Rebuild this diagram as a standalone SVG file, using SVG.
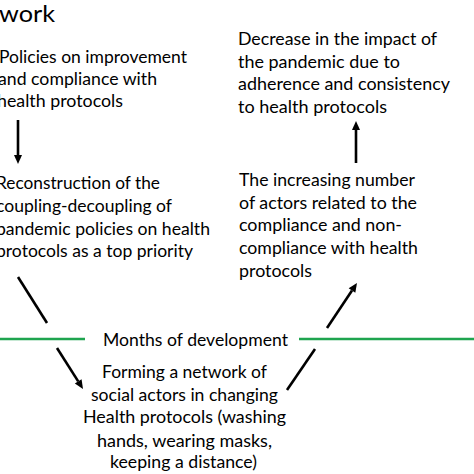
<svg xmlns="http://www.w3.org/2000/svg" width="474" height="474" viewBox="0 0 474 474">
<defs>
<style>
.t{font-family:Lato,"Open Sans","Liberation Sans",sans-serif;font-size:17.5px;fill:#000}
.ttl{font-family:Lato,"Open Sans","Liberation Sans",sans-serif;font-size:24px;fill:#000}
.c{stroke:#000;stroke-width:2.6;fill:none}
.g{stroke:#1fa44f;stroke-width:2.6;fill:none}
</style>
<marker id="ah" markerUnits="userSpaceOnUse" markerWidth="12" markerHeight="12" viewBox="0 -6 12 12" refX="0" refY="0" orient="auto" overflow="visible">
<path d="M0,-4 L9,0 L0,4 z" fill="#000"/>
</marker>
</defs>
<rect width="474" height="474" fill="#fff"/>
<text class="ttl" x="-1" y="22" textLength="56" lengthAdjust="spacingAndGlyphs">work</text>
<g id="n1">
<text class="t" x="-1" y="63" textLength="188" lengthAdjust="spacingAndGlyphs">Policies on improvement</text>
<text class="t" x="-2" y="85" textLength="159" lengthAdjust="spacingAndGlyphs">and compliance with</text>
<text class="t" x="-3" y="107" textLength="126" lengthAdjust="spacingAndGlyphs">health protocols</text>
</g>
<g id="n2">
<text class="t" x="-4" y="189" textLength="164" lengthAdjust="spacingAndGlyphs">Reconstruction of the</text>
<text class="t" x="-4" y="211.5" textLength="176" lengthAdjust="spacingAndGlyphs">coupling-decoupling of</text>
<text class="t" x="-4" y="234.5" textLength="214" lengthAdjust="spacingAndGlyphs">pandemic policies on health</text>
<text class="t" x="-4" y="257" textLength="197" lengthAdjust="spacingAndGlyphs">protocols as a top priority</text>
</g>
<g id="n3">
<text class="t" x="102" y="378.3" textLength="165" lengthAdjust="spacingAndGlyphs">Forming a network of</text>
<text class="t" x="91" y="401" textLength="187" lengthAdjust="spacingAndGlyphs">social actors in changing</text>
<text class="t" x="83" y="423.3" textLength="203" lengthAdjust="spacingAndGlyphs">Health protocols (washing</text>
<text class="t" x="97" y="446.7" textLength="175" lengthAdjust="spacingAndGlyphs">hands, wearing masks,</text>
<text class="t" x="110" y="468.3" textLength="147" lengthAdjust="spacingAndGlyphs">keeping a distance)</text>
</g>
<g id="n4">
<text class="t" x="239" y="186" textLength="176" lengthAdjust="spacingAndGlyphs">The increasing number</text>
<text class="t" x="239" y="208.5" textLength="178" lengthAdjust="spacingAndGlyphs">of actors related to the</text>
<text class="t" x="239" y="231" textLength="163" lengthAdjust="spacingAndGlyphs">compliance and non-</text>
<text class="t" x="239" y="254" textLength="179" lengthAdjust="spacingAndGlyphs">compliance with health</text>
<text class="t" x="239" y="277" textLength="73" lengthAdjust="spacingAndGlyphs">protocols</text>
</g>
<g id="n5">
<text class="t" x="238" y="45" textLength="199" lengthAdjust="spacingAndGlyphs">Decrease in the impact of</text>
<text class="t" x="238" y="67.5" textLength="162" lengthAdjust="spacingAndGlyphs">the pandemic due to</text>
<text class="t" x="238" y="90" textLength="212" lengthAdjust="spacingAndGlyphs">adherence and consistency</text>
<text class="t" x="238" y="112.5" textLength="149" lengthAdjust="spacingAndGlyphs">to health protocols</text>
</g>
<g id="axis">
<line class="g" x1="0" y1="339" x2="85" y2="339"/>
<line class="g" x1="299" y1="339" x2="474" y2="339"/>
<text class="t" x="103" y="346" textLength="185" lengthAdjust="spacingAndGlyphs">Months of development</text>
</g>
<g id="connectors">
<line class="c" x1="18" y1="120" x2="18" y2="155" marker-end="url(#ah)"/>
<line class="c" x1="18" y1="277" x2="47" y2="323"/>
<line class="c" x1="57" y1="348" x2="78.2" y2="381.4" marker-end="url(#ah)"/>
<line class="c" x1="287" y1="390" x2="315" y2="349"/>
<line class="c" x1="327" y1="328" x2="352" y2="290.5" marker-end="url(#ah)"/>
<line class="c" x1="356" y1="163" x2="356" y2="130" marker-end="url(#ah)"/>
</g>
</svg>
